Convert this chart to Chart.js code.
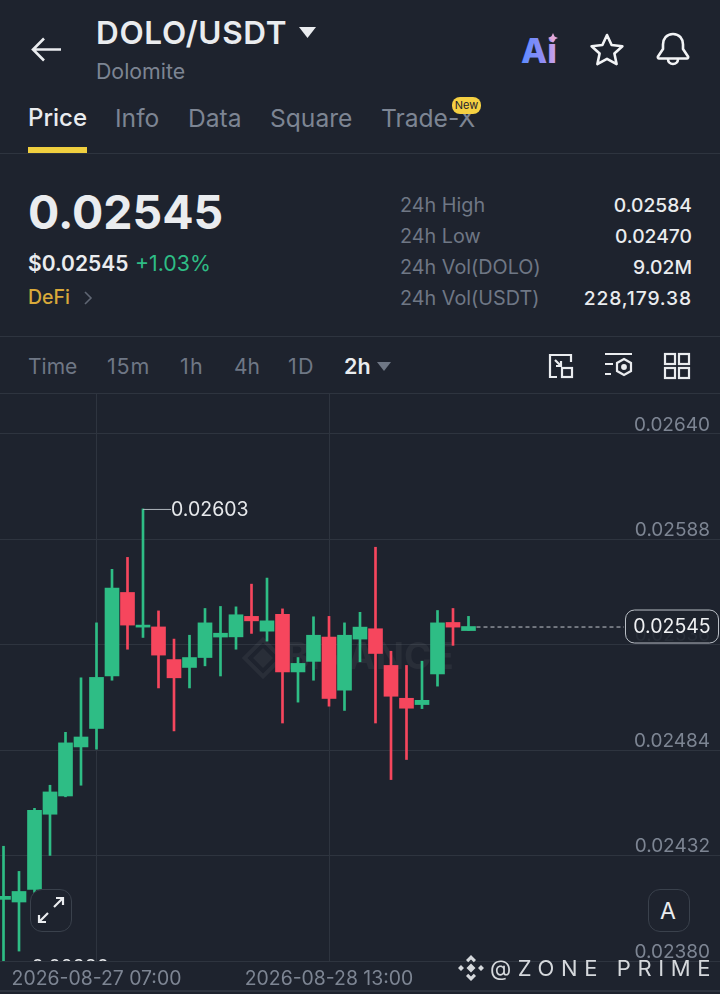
<!DOCTYPE html>
<html>
<head>
<meta charset="utf-8">
<title>DOLO/USDT</title>
<script src="https://cdn.jsdelivr.net/npm/chart.js@4"></script>
<style>
    html, body { margin: 0; padding: 0; background: #1e232e; }
    body { position: relative; width: 720px; height: 994px; overflow: hidden; font-family: Inter, "Noto Sans", sans-serif; color: #eaecef; }
    .t { position: absolute; white-space: nowrap; line-height: 1; }
    .gray { color: #7d8593; }
    .rule { position: absolute; left: 0; width: 720px; height: 1px; background: #2e343f; }
    .stat { font-size: 19.8px; color: #6f7785; left: 400px; }
    .val { font-size: 19.3px; font-weight: 500; right: 28px; color: #eaecef; }
    .tf { font-size: 21.5px; color: #6f7785; top: 356px; }
    svg { position: absolute; }
    #chartBox { position: absolute; left: 0; top: 394px; width: 720px; height: 600px; }
    .btn { position: absolute; width: 40px; height: 41px; border: 1.5px solid #3a414c; border-radius: 12px; background: #1e232e; top: 889px; }
</style>
</head>
<body>
    <!-- Header -->
    <svg style="left:30px;top:36px" width="34" height="28" viewBox="0 0 34 28" fill="none" stroke="#eaecef" stroke-width="2.6"><path d="M31 13.5H3M14 2.5L3 13.5l11 11"/></svg>
    <span class="t" style="left:96px;top:17px;font-size:31.5px;font-weight:600;letter-spacing:.7px;">DOLO/USDT</span>
    <svg style="left:298px;top:26px" width="20" height="14"><path d="M1 1h17l-8.5 11z" fill="#eaecef"/></svg>
    <span class="t gray" style="left:96px;top:61px;font-size:21.3px;">Dolomite</span>

    <svg style="left:518px;top:30px" width="44" height="38">
        <defs><linearGradient id="aiGrad" x1="0" x2="1" y1="0" y2="0"><stop offset="0" stop-color="#5b8cff"/><stop offset="0.6" stop-color="#8f8cf5"/><stop offset="1" stop-color="#d3a6e8"/></linearGradient></defs>
        <text x="3" y="33" font-family="Inter" font-weight="800" font-size="34" fill="url(#aiGrad)">Ai</text>
        <path d="M35 3l1.6 3.4L40 8l-3.4 1.6L35 13l-1.6-3.4L30 8l3.4-1.6z" fill="#e3a8d8"/>
    </svg>
    <svg style="left:589px;top:32px" width="36" height="34" fill="none" stroke="#f2f3f5" stroke-width="2.6" stroke-linejoin="round"><path d="M18 3l4.6 10 10.8 1.2-8 7.3 2.2 10.6L18 26.8 8.4 32.1l2.2-10.6-8-7.3L13.4 13z"/></svg>
    <svg style="left:655px;top:31px" width="36" height="36" fill="none" stroke="#f2f3f5" stroke-width="2.6" stroke-linejoin="round"><path d="M18 3c-6.5 0-10 5-10 10.500v4.500l-5 7.500c-.6 1 .2 2 1 2h28c.8 0 1.600-1 1-2l-5-7.500v-4.500C28 8 24.500 3 18 3z"/><path d="M13 28c0 3 2.200 5 5 5s5-2 5-5"/></svg>

    <!-- Tabs -->
    <span class="t" style="left:28px;top:106px;font-size:24px;font-weight:500;">Price</span>
    <span class="t gray" style="left:115px;top:106px;font-size:24.6px;">Info</span>
    <span class="t gray" style="left:188px;top:106px;font-size:24.6px;">Data</span>
    <span class="t gray" style="left:270px;top:106px;font-size:24.6px;">Square</span>
    <span class="t gray" style="left:381px;top:106px;font-size:24.6px;">Trade-X</span>
    <span class="t" style="left:452px;top:97px;width:29px;height:17px;line-height:17px;background:#f5d042;color:#1e232e;border-radius:8px;font-size:11px;text-align:center;">New</span>
    <div style="position:absolute;left:28px;top:147px;width:59px;height:6px;background:#f0cf3f;"></div>
    <div class="rule" style="top:153px;"></div>

    <!-- Ticker block -->
    <span class="t" style="left:28px;top:189px;font-size:46.4px;font-weight:700;color:#eaecef;">0.02545</span>
    <span class="t" style="left:28px;top:253px;font-size:21px;font-weight:600;">$0.02545</span>
    <span class="t" style="left:135px;top:253px;font-size:21.3px;color:#2ebd85;">+1.03%</span>
    <span class="t" style="left:28px;top:288px;font-size:19.5px;font-weight:500;color:#d8a93a;">DeFi</span>
    <svg style="left:82px;top:290px" width="12" height="16" fill="none" stroke="#5f6673" stroke-width="1.600"><path d="M3 2l6 6-6 6"/></svg>

    <span class="t stat" style="top:196px;">24h High</span>
    <span class="t stat" style="top:227px;">24h Low</span>
    <span class="t stat" style="top:258px;">24h Vol(DOLO)</span>
    <span class="t stat" style="top:289px;">24h Vol(USDT)</span>
    <span class="t val" style="top:196px;">0.02584</span>
    <span class="t val" style="top:227px;">0.02470</span>
    <span class="t val" style="top:258px;">9.02M</span>
    <span class="t val" style="top:289px;letter-spacing:.85px;">228,179.38</span>
    <div class="rule" style="top:336px;"></div>

    <!-- Timeframes -->
    <span class="t tf" style="left:28px;font-size:21px;">Time</span>
    <span class="t tf" style="left:107px;letter-spacing:.8px;">15m</span>
    <span class="t tf" style="left:180px;letter-spacing:1.2px;">1h</span>
    <span class="t tf" style="left:234px;font-size:21px;">4h</span>
    <span class="t tf" style="left:288px;letter-spacing:1.2px;">1D</span>
    <span class="t tf" style="left:344px;color:#eaecef;font-weight:600;">2h</span>
    <svg style="left:376px;top:361px" width="16" height="11"><path d="M1 1h14l-7 9z" fill="#6f7785"/></svg>

    <svg style="left:547px;top:352px" width="28" height="28" fill="none" stroke="#eaecef" stroke-width="2.200"><path d="M24 10V3H3v22h7"/><rect x="15" y="16" width="10" height="9"/><path d="M8 8l6 6M14 9v5H9"/></svg>
    <svg style="left:604px;top:352px" width="30" height="28" fill="none" stroke="#eaecef" stroke-width="2.200"><path d="M1 2h27M1 12h8M1 22h6"/><path d="M20 7l7 4v8l-7 4-7-4v-8z"/><circle cx="20" cy="15" r="1.800" fill="#eaecef"/></svg>
    <svg style="left:663px;top:352px" width="28" height="28" fill="none" stroke="#eaecef" stroke-width="2.200"><rect x="2" y="2" width="10" height="10"/><rect x="16" y="2" width="10" height="10"/><rect x="2" y="16" width="10" height="10"/><rect x="16" y="16" width="10" height="10"/></svg>
    <div class="rule" style="top:393px;"></div>

    <!-- Chart -->
    <div id="chartBox"><canvas id="klineChart" width="720" height="600"></canvas></div>

    <!-- Floating buttons -->
    <div class="btn" style="left:30px;">
        <svg style="left:6px;top:6px" width="28" height="28" fill="none" stroke="#eaecef" stroke-width="2.200"><path d="M17 11l9-9M19 2h7v7M11 17l-9 9M2 19v7h7"/></svg>
    </div>
    <div class="btn" style="left:648px;"><span class="t" style="left:11px;top:10px;font-size:23px;color:#eaecef;">A</span></div>

    <div class="rule" style="top:990px;height:2px;"></div>

    <!-- Watermark -->
    <svg style="left:457px;top:954px" width="28" height="28" viewBox="0 0 28 28" fill="#d5d8dc">
        <path d="M14 1l5 5-2.200 2.200L14 5.400 11.200 8.200 9 6zM14 27l5-5-2.200-2.200L14 22.600l-2.800-2.800L9 22zM1 14l3-3 3 3-3 3zM21 14l3-3 3 3-3 3zM14 9.500l4.500 4.500-4.500 4.500L9.500 14z"/>
    </svg>
    <span class="t" style="left:490px;top:957px;font-size:22px;letter-spacing:6.6px;color:#d5d8dc;">@ZONE PRIME</span>

<script>
// Candles, two hours apart
const categories = [
    "2026-08-26 19:00", "2026-08-26 21:00", "2026-08-26 23:00", "2026-08-27 01:00", "2026-08-27 03:00", "2026-08-27 05:00",
    "2026-08-27 07:00", "2026-08-27 09:00", "2026-08-27 11:00", "2026-08-27 13:00", "2026-08-27 15:00", "2026-08-27 17:00",
    "2026-08-27 19:00", "2026-08-27 21:00", "2026-08-27 23:00", "2026-08-28 01:00", "2026-08-28 03:00", "2026-08-28 05:00",
    "2026-08-28 07:00", "2026-08-28 09:00", "2026-08-28 11:00", "2026-08-28 13:00", "2026-08-28 15:00", "2026-08-28 17:00",
    "2026-08-28 19:00", "2026-08-28 21:00", "2026-08-28 23:00", "2026-08-29 01:00", "2026-08-29 03:00", "2026-08-29 05:00",
    "2026-08-29 07:00"
];
const opens = [
    0.024104, 0.024091, 0.024153, 0.024524, 0.024614, 0.024856, 0.024947, 0.025206,
    0.025618, 0.025447, 0.025448, 0.025287, 0.025248, 0.025297, 0.025398, 0.025399,
    0.025500, 0.025427, 0.025510, 0.025226, 0.025278, 0.025398, 0.025136, 0.025388,
    0.025439, 0.025258, 0.025096, 0.025065, 0.025216, 0.025470, 0.025430
];
const highs = [
    0.024366, 0.024242, 0.024553, 0.024667, 0.024928, 0.025197, 0.025468, 0.025732,
    0.025791, 0.026030, 0.025527, 0.025388, 0.025407, 0.025539, 0.025549, 0.025547,
    0.025659, 0.025689, 0.025537, 0.025297, 0.025498, 0.025500, 0.025468, 0.025520,
    0.025841, 0.025328, 0.025258, 0.025279, 0.025529, 0.025539, 0.025500
];
const lows = [
    0.023798, 0.023849, 0.024138, 0.024321, 0.024610, 0.024667, 0.024845, 0.025185,
    0.025338, 0.025396, 0.025147, 0.024935, 0.025147, 0.025256, 0.025206, 0.025338,
    0.025416, 0.025378, 0.024974, 0.025077, 0.025185, 0.025057, 0.025036, 0.025276,
    0.024974, 0.024695, 0.024794, 0.025045, 0.025156, 0.025357, 0.025430
];
const closes = [
    0.024119, 0.024143, 0.024543, 0.024634, 0.024876, 0.024905, 0.025199, 0.025640,
    0.025457, 0.025457, 0.025309, 0.025197, 0.025297, 0.025468, 0.025417, 0.025508,
    0.025478, 0.025478, 0.025226, 0.025268, 0.025407, 0.025095, 0.025407, 0.025447,
    0.025317, 0.025106, 0.025047, 0.025086, 0.025468, 0.025447, 0.025450
];
const priceTicks = [0.02640, 0.02588, 0.02536, 0.02484, 0.02432, 0.02380];
const timeTickIndexes = [6, 21];
const lastPrice = 0.02545;

const GREEN = "#2ebd85";
const RED = "#f6465d";
const GRAY = "#7d8593";
const GRID = "#2e343f";

const candleColors = opens.map((o, i) => closes[i] >= o ? GREEN : RED);

// Watermark sits under the candles
const watermark = {
    id: "watermark",
    beforeDatasetsDraw(chart) {
        const ctx = chart.ctx;
        ctx.save();
        ctx.fillStyle = "rgba(255,255,255,0.05)";
        ctx.font = "700 37px Inter";
        ctx.textBaseline = "middle";
        ctx.fillText("BINANCE", 285, 264);
        ctx.translate(263, 264);
        ctx.rotate(Math.PI / 4);
        ctx.fillRect(-7, -7, 14, 14);
        ctx.strokeStyle = "rgba(255,255,255,0.05)";
        ctx.lineWidth = 4;
        ctx.strokeRect(-13, -13, 26, 26);
        ctx.restore();
    }
};

// High / low callouts and the last price line
const annotations = {
    id: "annotations",
    afterDatasetsDraw(chart) {
        const ctx = chart.ctx;
        const x = chart.scales.x;
        const y = chart.scales.y;
        const area = chart.chartArea;
        ctx.save();

        // highest candle
        const hiIdx = highs.indexOf(Math.max(...highs));
        const hiX = x.getPixelForValue(hiIdx);
        const hiY = y.getPixelForValue(highs[hiIdx]);
        ctx.strokeStyle = "#aeb4bc";
        ctx.lineWidth = 1;
        ctx.beginPath();
        ctx.moveTo(hiX, hiY + 0.5);
        ctx.lineTo(hiX + 28, hiY + 0.5);
        ctx.stroke();
        ctx.fillStyle = "#e6e8eb";
        ctx.font = "19.500px Inter";
        ctx.textBaseline = "middle";
        ctx.textAlign = "left";
        ctx.fillText(highs[hiIdx].toFixed(5), hiX + 28, hiY + 1);

        // lowest candle label gets cut by the bottom of the plot
        ctx.save();
        ctx.beginPath();
        ctx.rect(area.left, area.top, area.right - area.left, area.bottom - area.top);
        ctx.clip();
        const loIdx = lows.indexOf(Math.min(...lows));
        ctx.fillText(lows[loIdx].toFixed(5), x.getPixelForValue(loIdx) + 28, y.getPixelForValue(lows[loIdx]) + 7);
        ctx.restore();

        // last price
        const lastY = y.getPixelForValue(lastPrice);
        const lastX = x.getPixelForValue(opens.length - 1) + 8;
        ctx.strokeStyle = "#c4c8ce";
        ctx.setLineDash([4, 3]);
        ctx.beginPath();
        ctx.moveTo(lastX, lastY + 0.5);
        ctx.lineTo(624, lastY + 0.5);
        ctx.stroke();
        ctx.setLineDash([]);

        ctx.beginPath();
        ctx.roundRect(625.5, lastY - 16.5, 93, 33, 9);
        ctx.fillStyle = "rgba(30,35,46,0.9)";
        ctx.fill();
        ctx.strokeStyle = "#b9bec5";
        ctx.stroke();
        ctx.fillStyle = "#f0f1f3";
        ctx.textAlign = "center";
        ctx.fillText(lastPrice.toFixed(5), 672, lastY + 1);
        ctx.restore();
    }
};

const chart = new Chart(document.getElementById("klineChart"), {
    type: "bar",
    data: {
        datasets: [
            {
                // wicks
                data: opens.map((o, i) => ({ x: i, y: [lows[i], highs[i]] })),
                backgroundColor: candleColors,
                barThickness: 2,
                grouped: false,
                order: 2
            },
            {
                // bodies
                data: opens.map((o, i) => ({ x: i, y: [o, closes[i]] })),
                backgroundColor: candleColors,
                barThickness: 14,
                grouped: false,
                order: 1
            }
        ]
    },
    plugins: [watermark, annotations],
    options: {
        responsive: false,
        animation: false,
        events: [],
        layout: { padding: 0 },
        plugins: { legend: { display: false }, title: { display: false }, tooltip: { enabled: false } },
        scales: {
            x: {
                type: "linear",
                offset: false,
                min: -0.226,
                max: 46.226,
                afterBuildTicks: scale => { scale.ticks = timeTickIndexes.map(v => ({ value: v })); },
                afterFit: scale => { scale.height = 33; },
                grid: { color: GRID, offset: false, drawTicks: false },
                border: { display: false },
                ticks: {
                    color: GRAY,
                    font: { family: "Inter", size: 19.4 },
                    padding: 7,
                    maxRotation: 0,
                    autoSkip: false,
                    callback: value => categories[value]
                }
            },
            y: {
                position: "right",
                min: 0.0238,
                max: 0.026597,
                afterBuildTicks: scale => { scale.ticks = priceTicks.map(v => ({ value: v })); },
                afterFit: scale => {
                    // labels sit inside the plot, no room needed around it
                    scale.width = 0;
                    scale.paddingTop = 0;
                    scale.paddingBottom = 0;
                },
                grid: { color: GRID, drawTicks: false },
                border: { display: false },
                ticks: {
                    color: GRAY,
                    mirror: true,
                    padding: -10,
                    labelOffset: -9,
                    font: { family: "Inter", size: 19 },
                    callback: value => value.toFixed(5)
                }
            }
        }
    }
});
</script>
</body>
</html>
